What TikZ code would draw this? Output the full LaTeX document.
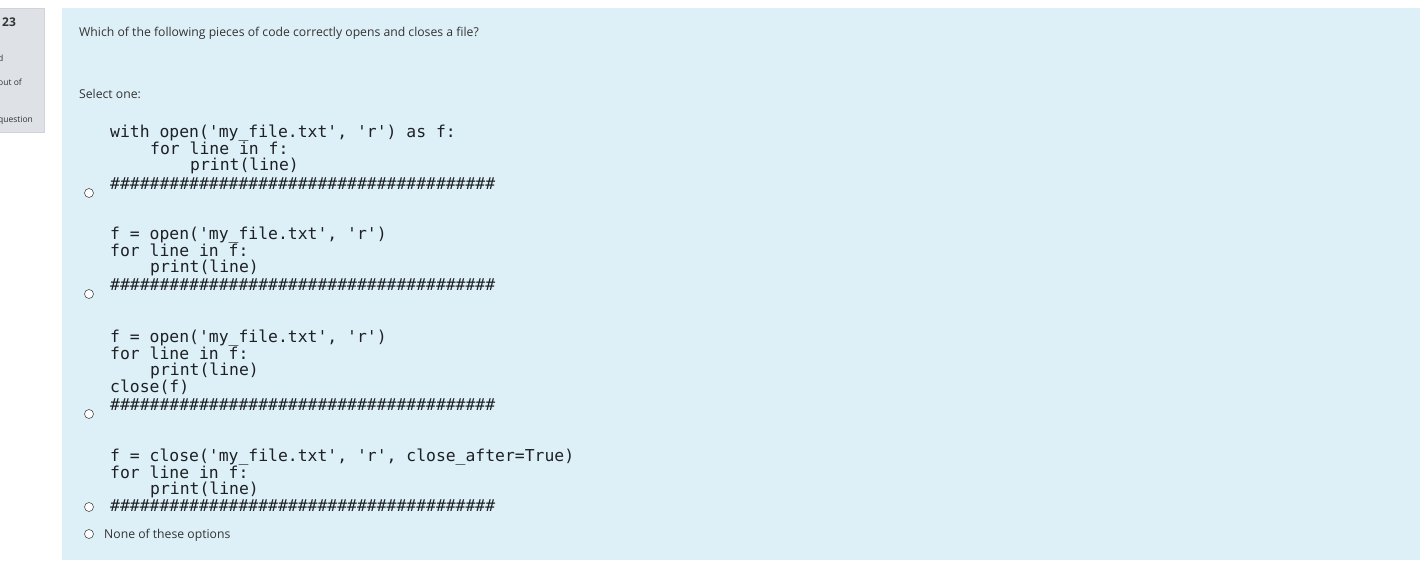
\documentclass[tikz,border=0pt]{standalone}
\usepackage{fontspec}
\setmainfont{Open Sans}
\setmonofont{DejaVu Sans Mono}
\definecolor{panel}{HTML}{DEF0F7}
\definecolor{side}{HTML}{DEE2E6}
\definecolor{sideb}{HTML}{CED4DA}
\definecolor{txt}{HTML}{333333}
\definecolor{code}{HTML}{1D2125}
\tikzset{
 y=-1pt,x=1pt,
 lbl/.style={anchor=base west,inner sep=0pt,text=txt,font=\fontsize{12.2}{14}\selectfont},
 side/.style={anchor=base west,inner sep=0pt,text=txt,font=\fontsize{8.5}{10}\selectfont},
 cd/.style={anchor=base west,inner sep=0pt,text=code,font=\fontsize{16.4}{17}\ttfamily},
 radio/.style={circle,draw=black!70,fill=white,line width=0.6pt,minimum size=9pt,inner sep=0pt}
}
\begin{document}
\begin{tikzpicture}
\useasboundingbox (0,0) rectangle (1426,578);
\fill[white] (0,0) rectangle (1426,578);
\draw[fill=side,draw=sideb] (-2,8) rectangle (44,132);
\fill[panel] (62,8) rectangle (1420,560);
\node[side,font=\bfseries\fontsize{12}{14}\selectfont] (num) at (2,27) {23};
\node[side] (s1) at (-2,62) {d};
\node[side] (s2) at (-2,85) {out of};
\node[side] (s3) at (-2,122) {question};
\node[lbl] (q) at (79,37) {Which of the following pieces of code correctly opens and closes a file?};
\node[lbl] (sel) at (79,98) {Select one:};
% block 1
\node[cd] (a1) at (110,137) {with open('my\_file.txt', 'r') as f:};
\node[cd] (a2) at (150,154) {for line in f:};
\node[cd] (a3) at (190,170) {print(line)};
\node[cd] (a4) at (110,189) {\#\#\#\#\#\#\#\#\#\#\#\#\#\#\#\#\#\#\#\#\#\#\#\#\#\#\#\#\#\#\#\#\#\#\#\#\#\#\#};
\node[radio] (r1) at (89,193) {};
% block 2
\node[cd] (b1) at (110,239) {f = open('my\_file.txt', 'r')};
\node[cd] (b2) at (110,256) {for line in f:};
\node[cd] (b3) at (150,272) {print(line)};
\node[cd] (b4) at (110,290) {\#\#\#\#\#\#\#\#\#\#\#\#\#\#\#\#\#\#\#\#\#\#\#\#\#\#\#\#\#\#\#\#\#\#\#\#\#\#\#};
\node[radio] (r2) at (89,294) {};
% block 3
\node[cd] (c1) at (110,342) {f = open('my\_file.txt', 'r')};
\node[cd] (c2) at (110,359) {for line in f:};
\node[cd] (c3) at (150,375) {print(line)};
\node[cd] (c4) at (110,392) {close(f)};
\node[cd] (c5) at (110,410) {\#\#\#\#\#\#\#\#\#\#\#\#\#\#\#\#\#\#\#\#\#\#\#\#\#\#\#\#\#\#\#\#\#\#\#\#\#\#\#};
\node[radio] (r3) at (89,414) {};
% block 4
\node[cd] (d1) at (110,461) {f = close('my\_file.txt', 'r', close\_after=True)};
\node[cd] (d2) at (110,478) {for line in f:};
\node[cd] (d3) at (150,494) {print(line)};
\node[cd] (d4) at (110,511) {\#\#\#\#\#\#\#\#\#\#\#\#\#\#\#\#\#\#\#\#\#\#\#\#\#\#\#\#\#\#\#\#\#\#\#\#\#\#\#};
\node[radio] (r4) at (89,507) {};
% none
\node[radio] (r5) at (89,534) {};
\node[lbl] (none) at (104,538) {None of these options};
\end{tikzpicture}
\end{document}
